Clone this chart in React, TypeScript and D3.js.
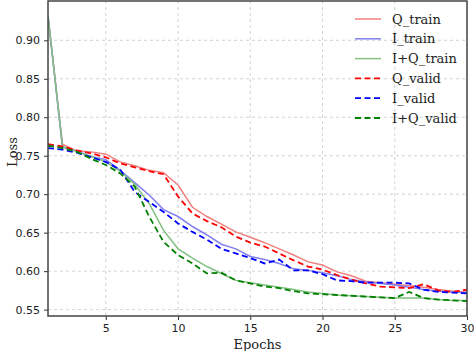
import React, { useEffect, useRef } from "react";
import * as d3 from "d3";

const epochs = d3.range(1, 31);

const qTrain = [0.932, 0.765, 0.756, 0.755, 0.752, 0.742, 0.737, 0.731, 0.728, 0.712, 0.683, 0.671, 0.661, 0.651, 0.644, 0.637, 0.629, 0.621, 0.612, 0.608, 0.599, 0.594, 0.587, 0.585, 0.583, 0.581, 0.579, 0.576, 0.574, 0.573];
const iTrain = [0.932, 0.761, 0.756, 0.749, 0.745, 0.731, 0.715, 0.699, 0.680, 0.671, 0.658, 0.647, 0.635, 0.629, 0.619, 0.615, 0.610, 0.603, 0.601, 0.598, 0.594, 0.589, 0.586, 0.584, 0.582, 0.579, 0.576, 0.574, 0.573, 0.572];
const iqTrain = [0.932, 0.762, 0.755, 0.749, 0.742, 0.730, 0.713, 0.688, 0.653, 0.629, 0.617, 0.606, 0.597, 0.588, 0.585, 0.582, 0.579, 0.576, 0.573, 0.571, 0.569, 0.568, 0.567, 0.566, 0.565, 0.565, 0.565, 0.563, 0.562, 0.562];
const qValid = [0.765, 0.762, 0.757, 0.753, 0.748, 0.740, 0.735, 0.730, 0.726, 0.697, 0.675, 0.665, 0.657, 0.645, 0.637, 0.632, 0.623, 0.614, 0.606, 0.602, 0.595, 0.589, 0.584, 0.580, 0.579, 0.578, 0.583, 0.575, 0.573, 0.576];
const iValid = [0.760, 0.758, 0.754, 0.748, 0.742, 0.732, 0.703, 0.690, 0.677, 0.662, 0.651, 0.641, 0.629, 0.623, 0.617, 0.610, 0.615, 0.601, 0.601, 0.596, 0.588, 0.587, 0.585, 0.585, 0.585, 0.584, 0.576, 0.573, 0.572, 0.571];
const iqValid = [0.763, 0.760, 0.755, 0.746, 0.738, 0.727, 0.710, 0.671, 0.638, 0.621, 0.610, 0.597, 0.598, 0.588, 0.584, 0.580, 0.578, 0.574, 0.571, 0.570, 0.569, 0.568, 0.567, 0.566, 0.565, 0.573, 0.565, 0.563, 0.562, 0.561];

const series = [
  { label: "Q_train", values: qTrain, color: "#f08080", dash: false },
  { label: "I_train", values: iTrain, color: "#8080f0", dash: false },
  { label: "I+Q_train", values: iqTrain, color: "#80c080", dash: false },
  { label: "Q_valid", values: qValid, color: "#ff0000", dash: true },
  { label: "I_valid", values: iValid, color: "#0000ff", dash: true },
  { label: "I+Q_valid", values: iqValid, color: "#008000", dash: true },
];

const xTicks = [5, 10, 15, 20, 25, 30];
const yTicks = [0.55, 0.6, 0.65, 0.7, 0.75, 0.8, 0.85, 0.9];

export default function App() {
  const svgRef = useRef<SVGSVGElement>(null);

  useEffect(() => {
    if (!svgRef.current) return;
    const svg = d3.select(svgRef.current);
    svg.selectAll("*").remove();

    const width = 474;
    const height = 351;
    const margin = { top: 1, right: 7, bottom: 35, left: 48 };
    const innerWidth = width - margin.left - margin.right;
    const innerHeight = height - margin.top - margin.bottom;

    const x = d3.scaleLinear().domain([1, 30]).range([0, innerWidth]);
    const y = d3.scaleLinear().domain([0.5417, 0.9511]).range([innerHeight, 0]);

    const g = svg.append("g").attr("transform", `translate(${margin.left},${margin.top})`);

    // grid
    g.append("g")
      .selectAll("line")
      .data(xTicks)
      .join("line")
      .attr("x1", d => x(d))
      .attr("x2", d => x(d))
      .attr("y1", 0)
      .attr("y2", innerHeight)
      .attr("stroke", "#c8c8c8")
      .attr("stroke-width", 0.8)
      .attr("stroke-dasharray", "3,3");
    g.append("g")
      .selectAll("line")
      .data(yTicks)
      .join("line")
      .attr("x1", 0)
      .attr("x2", innerWidth)
      .attr("y1", d => y(d))
      .attr("y2", d => y(d))
      .attr("stroke", "#c8c8c8")
      .attr("stroke-width", 0.8)
      .attr("stroke-dasharray", "3,3");

    // lines
    const clip = g.append("clipPath").attr("id", "plotclip");
    clip.append("rect").attr("width", innerWidth).attr("height", innerHeight);
    const plot = g.append("g").attr("clip-path", "url(#plotclip)");

    series.forEach(s => {
      const line = d3.line<number>()
        .x((_, i) => x(epochs[i]))
        .y(d => y(d));
      plot.append("path")
        .datum(s.values)
        .attr("fill", "none")
        .attr("stroke", s.color)
        .attr("stroke-width", s.dash ? 1.8 : 1.5)
        .attr("stroke-dasharray", s.dash ? "6,3.5" : null)
        .attr("d", line);
    });

    // axes
    const xAxis = g.append("g")
      .attr("transform", `translate(0,${innerHeight})`)
      .call(d3.axisBottom(x).tickValues(xTicks).tickSize(4).tickPadding(4).tickFormat(d3.format("d")));
    xAxis.select(".domain").remove();
    xAxis.selectAll("line").attr("stroke", "#333");
    xAxis.selectAll("text")
      .style("font-family", "DejaVu Sans")
      .style("font-size", "11px")
      .style("fill", "#222");

    const yAxis = g.append("g")
      .call(d3.axisLeft(y).tickValues(yTicks).tickSize(4).tickPadding(4).tickFormat(d3.format(".2f")));
    yAxis.select(".domain").remove();
    yAxis.selectAll("line").attr("stroke", "#333");
    yAxis.selectAll("text")
      .style("font-family", "DejaVu Sans")
      .style("font-size", "11px")
      .style("fill", "#222");

    // frame
    g.append("rect")
      .attr("width", innerWidth)
      .attr("height", innerHeight)
      .attr("fill", "none")
      .attr("stroke", "#444")
      .attr("stroke-width", 1.5);

    // labels
    g.append("text")
      .attr("x", innerWidth / 2)
      .attr("y", innerHeight + 32.5)
      .attr("text-anchor", "middle")
      .style("font-family", "DejaVu Serif")
      .style("font-size", "13px")
      .style("fill", "#222")
      .text("Epochs");

    g.append("text")
      .attr("transform", "rotate(-90)")
      .attr("x", -151)
      .attr("y", -31)
      .attr("text-anchor", "middle")
      .style("font-family", "DejaVu Serif")
      .style("font-size", "13px")
      .style("fill", "#222")
      .text("Loss");

    // legend
    const legend = g.append("g").attr("transform", `translate(${355 - margin.left},${19 - margin.top})`);
    series.forEach((s, i) => {
      const item = legend.append("g").attr("transform", `translate(0,${i * 19.8})`);
      item.append("line")
        .attr("x1", 0)
        .attr("x2", 26)
        .attr("stroke", s.color)
        .attr("stroke-width", s.dash ? 1.8 : 1.5)
        .attr("stroke-dasharray", s.dash ? "6,3.5" : null);
      item.append("text")
        .attr("x", 37)
        .attr("y", 4.5)
        .style("font-family", "DejaVu Serif")
        .style("font-size", "13px")
        .style("fill", "#222")
        .text(s.label);
    });
  }, []);

  return (
    <svg
      ref={svgRef}
      width={474}
      height={351}
      style={{ position: "absolute", left: 0, top: 0, background: "#fff", display: "block" }}
    />
  );
}
